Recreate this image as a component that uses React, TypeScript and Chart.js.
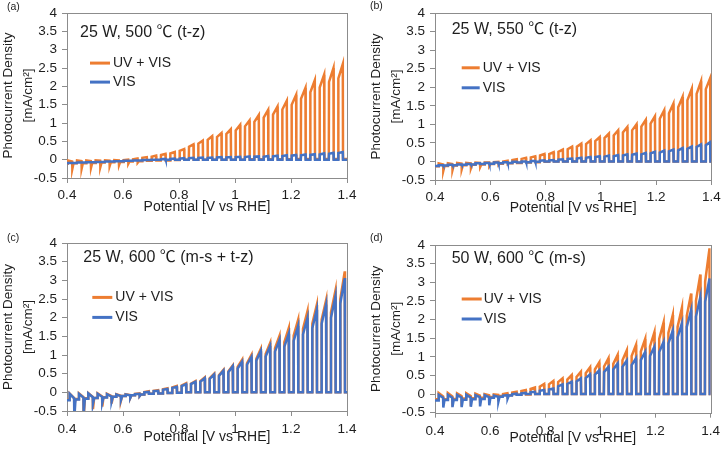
import { useEffect, useRef } from 'react';
import { Chart, registerables } from 'chart.js';

Chart.register(...registerables);

const FONT = '"Liberation Sans", Arial, "Noto Sans CJK JP", sans-serif';
const TEXT = '#1e1e1e';
const AXIS = '#8c8c8c';
const ORANGE = '#ED7D31';
const BLUE = '#4472C4';

// Light chopping period (V): 30 on/off cycles per volt of sweep
const PERIOD = 1 / 30;

const X_TICKS = [0.4, 0.6, 0.8, 1.0, 1.2, 1.4];
const Y_TICKS = [-0.5, 0, 0.5, 1, 1.5, 2, 2.5, 3, 3.5, 4];
const X_TITLE = 'Potential [V vs RHE]';
const Y_TITLE = ['Photocurrent Density', '[mA/cm²]'];
const SERIES = ['UV + VIS', 'VIS'];

// Per light pulse: dark current before the pulse, current right after the
// light is switched on, current just before it is switched off, and the
// cathodic transient after switching off (mA/cm²).

// (a) 25 W, 500 ℃
const aUvDark = [-0.11, -0.1, -0.1, -0.09, -0.08, -0.07, -0.06, -0.05, -0.04, -0.03, -0.02, -0.02, -0.01, 0, 0, 0, 0, 0, 0, 0, 0.01, 0.01, 0.01, 0.01, 0.01, 0.02, 0.02, 0.02, 0.02, 0.02];
const aUvRise = [-0.02, -0.02, -0.02, -0.02, -0.02, -0.01, -0.01, 0.01, 0.05, 0.08, 0.13, 0.17, 0.24, 0.35, 0.44, 0.54, 0.62, 0.7, 0.8, 0.91, 1.03, 1.15, 1.23, 1.37, 1.5, 1.66, 1.84, 1.97, 2.12, 2.22];
const aUvPeak = [-0.05, -0.04, -0.04, -0.03, -0.03, -0.02, 0, 0.03, 0.07, 0.11, 0.16, 0.21, 0.29, 0.42, 0.52, 0.64, 0.73, 0.83, 0.95, 1.07, 1.22, 1.36, 1.45, 1.61, 1.77, 1.96, 2.17, 2.32, 2.5, 2.61];
const aUvDip = [-0.25, -0.24, -0.22, -0.2, -0.17, -0.15, -0.11, -0.08];
const aVisDark = [-0.1, -0.09, -0.08, -0.07, -0.06, -0.05, -0.04, -0.03, -0.02, -0.01, 0, 0, 0, 0, 0, 0, 0, 0, 0, 0, 0, 0, 0, 0, 0, 0, 0, 0, 0, 0];
const aVisRise = [-0.09, -0.08, -0.07, -0.06, -0.05, -0.04, -0.03, -0.02, -0.01, 0, 0.01, 0.02, 0.03, 0.04, 0.05, 0.05, 0.06, 0.06, 0.07, 0.07, 0.08, 0.08, 0.09, 0.1, 0.11, 0.12, 0.13, 0.14, 0.16, 0.18];
const aVisPeak = [-0.09, -0.08, -0.07, -0.06, -0.05, -0.04, -0.03, -0.02, -0.01, 0, 0.02, 0.03, 0.04, 0.05, 0.06, 0.06, 0.07, 0.07, 0.08, 0.09, 0.09, 0.1, 0.11, 0.12, 0.13, 0.14, 0.15, 0.17, 0.19, 0.21];

// (b) 25 W, 550 ℃
const bUvDark = [-0.13, -0.12, -0.11, -0.1, -0.09, -0.08, -0.07, -0.06, -0.05, -0.04, -0.03, -0.02, -0.01, 0, 0, 0, 0, 0, 0, 0, 0, 0, 0, 0, 0, 0, 0, 0, 0, 0];
const bUvRise = [-0.05, -0.05, -0.04, -0.04, -0.03, -0.03, -0.02, 0, 0.04, 0.07, 0.11, 0.16, 0.2, 0.26, 0.33, 0.4, 0.47, 0.55, 0.63, 0.7, 0.78, 0.84, 0.94, 1.02, 1.15, 1.3, 1.46, 1.65, 1.82, 1.95];
const bUvPeak = [-0.08, -0.07, -0.06, -0.05, -0.04, -0.03, -0.01, 0.02, 0.06, 0.1, 0.14, 0.2, 0.25, 0.32, 0.4, 0.48, 0.57, 0.66, 0.75, 0.84, 0.93, 1.0, 1.12, 1.22, 1.38, 1.56, 1.74, 1.96, 2.16, 2.25];
const bUvDip = [-0.25, -0.23, -0.21, -0.18, -0.15, -0.12, -0.09, -0.07];
const bVisDark = [-0.12, -0.11, -0.1, -0.09, -0.08, -0.07, -0.06, -0.05, -0.04, -0.03, -0.02, -0.01, 0, 0, 0, 0, 0, 0, 0, 0, 0, 0, 0, 0, 0, 0, 0, 0, 0, 0];
const bVisRise = [-0.1, -0.09, -0.08, -0.07, -0.05, -0.04, -0.03, -0.02, -0.01, 0, 0.01, 0.02, 0.03, 0.05, 0.07, 0.08, 0.1, 0.12, 0.13, 0.14, 0.16, 0.18, 0.19, 0.22, 0.24, 0.27, 0.3, 0.34, 0.39, 0.44];
const bVisPeak = [-0.1, -0.09, -0.08, -0.07, -0.05, -0.04, -0.03, -0.02, -0.01, 0, 0.01, 0.03, 0.04, 0.06, 0.08, 0.1, 0.12, 0.14, 0.16, 0.17, 0.19, 0.21, 0.23, 0.26, 0.29, 0.32, 0.36, 0.4, 0.46, 0.52];

// (c) 25 W, 600 ℃
const cUvDark = [-0.2, -0.18, -0.16, -0.15, -0.13, -0.12, -0.1, -0.08, -0.06, -0.04, -0.03, -0.02, -0.01, 0, 0, 0, 0, 0, 0, 0, 0, 0, 0, 0, 0, 0, 0, 0, 0, 0];
const cUvRise = [-0.03, -0.03, -0.02, -0.03, -0.04, -0.05, -0.05, -0.04, 0.01, 0.04, 0.08, 0.13, 0.18, 0.23, 0.3, 0.38, 0.46, 0.56, 0.68, 0.78, 0.9, 1.03, 1.18, 1.34, 1.52, 1.7, 1.84, 1.95, 2.14, 2.5];
const cUvPeak = [-0.15, -0.13, -0.12, -0.11, -0.1, -0.09, -0.07, -0.03, 0.03, 0.06, 0.11, 0.17, 0.24, 0.3, 0.4, 0.5, 0.6, 0.72, 0.87, 1.0, 1.16, 1.32, 1.51, 1.72, 1.94, 2.17, 2.34, 2.47, 2.72, 3.24];
const cUvDip = [-0.35, -0.7, -0.45, -0.38, -0.3, -0.22, -0.15, -0.1];
const cVisDark = [-0.21, -0.19, -0.17, -0.15, -0.14, -0.12, -0.1, -0.08, -0.06, -0.04, -0.03, -0.02, -0.01, 0, 0, 0, 0, 0, 0, 0, 0, 0, 0, 0, 0, 0, 0, 0, 0, 0];
const cVisRise = [-0.04, -0.04, -0.03, -0.04, -0.05, -0.06, -0.06, -0.05, 0, 0.03, 0.07, 0.12, 0.17, 0.22, 0.28, 0.36, 0.44, 0.54, 0.64, 0.74, 0.85, 0.96, 1.09, 1.22, 1.38, 1.55, 1.72, 1.84, 2.0, 2.38];
const cVisPeak = [-0.16, -0.14, -0.13, -0.12, -0.11, -0.1, -0.08, -0.04, 0.01, 0.04, 0.09, 0.15, 0.22, 0.28, 0.38, 0.48, 0.58, 0.7, 0.82, 0.95, 1.1, 1.24, 1.4, 1.57, 1.78, 1.99, 2.21, 2.35, 2.57, 3.06];
const cVisDip = [-0.7, -0.6, -0.3, -0.27, -0.24, -0.2, -0.15, -0.1];

// (d) 50 W, 600 ℃
const dUvDark = [-0.14, -0.14, -0.13, -0.12, -0.11, -0.1, -0.08, -0.05, -0.03, -0.02, -0.01, 0, 0, 0, 0, 0, 0, 0, 0, 0, 0, 0, 0, 0, 0, 0, 0, 0, 0, 0];
const dUvRise = [0.03, 0.03, 0.02, 0.02, 0.01, 0, -0.01, 0, 0.04, 0.08, 0.14, 0.2, 0.26, 0.32, 0.39, 0.46, 0.56, 0.66, 0.74, 0.81, 0.91, 1.02, 1.14, 1.28, 1.48, 1.64, 1.8, 2.1, 2.5, 3.02];
const dUvPeak = [-0.06, -0.06, -0.05, -0.05, -0.04, -0.03, -0.02, 0.02, 0.06, 0.11, 0.18, 0.27, 0.35, 0.42, 0.51, 0.6, 0.72, 0.85, 0.96, 1.05, 1.18, 1.32, 1.48, 1.66, 1.92, 2.12, 2.32, 2.7, 3.21, 3.91];
const dUvDip = [-0.2, -0.2, -0.19, -0.18, -0.16, -0.14, -0.1, -0.06];
const dVisDark = [-0.17, -0.16, -0.16, -0.15, -0.14, -0.13, -0.1, -0.07, -0.04, -0.02, 0, 0, 0, 0, 0, 0, 0, 0, 0, 0, 0, 0, 0, 0, 0, 0, 0, 0, 0, 0];
const dVisRise = [-0.02, -0.02, -0.02, -0.02, -0.03, -0.03, -0.04, -0.04, 0, 0.02, 0.05, 0.09, 0.12, 0.21, 0.27, 0.34, 0.43, 0.52, 0.59, 0.66, 0.73, 0.78, 0.91, 1.02, 1.13, 1.36, 1.52, 1.8, 2.08, 2.48];
const dVisPeak = [-0.1, -0.1, -0.09, -0.09, -0.08, -0.08, -0.07, -0.03, 0.01, 0.03, 0.06, 0.11, 0.15, 0.26, 0.33, 0.42, 0.53, 0.64, 0.73, 0.82, 0.9, 0.96, 1.13, 1.27, 1.4, 1.7, 1.9, 2.25, 2.6, 3.1];
const dVisDip = [-0.36, -0.35, -0.35, -0.34, -0.33, -0.3, -0.2, -0.12];

type Pulses = { dark: number[]; rise: number[]; peak: number[]; dip?: number[] };

// Chopped-light voltammogram: dark / on / off segments for every pulse.
function buildTrace(lastOff: number, p: Pulses) {
  const n = p.peak.length;
  const pts: { x: number; y: number }[] = [{ x: 0.4, y: p.dark[0] }];
  for (let i = 0; i < n; i++) {
    const off = lastOff - (n - 1 - i) * PERIOD;
    const on = off - PERIOD / 2;
    const nextDark = i + 1 < n ? p.dark[i + 1] : p.dark[i];
    const dip = p.dip && i < p.dip.length ? p.dip[i] : nextDark;
    pts.push({ x: on, y: p.dark[i] });
    pts.push({ x: on + 0.0008, y: p.rise[i] });
    pts.push({ x: off, y: p.peak[i] });
    pts.push({ x: off + 0.0008, y: dip });
    pts.push({ x: off + 0.005, y: nextDark });
  }
  pts.push({ x: 1.4, y: p.dark[n - 1] });
  return pts;
}

type PanelCfg = {
  letter: string;
  title: string;
  lastOff: number;
  uv: Pulses;
  vis: Pulses;
  left: number;
  top: number;
  w: number;
  h: number;
  padTop: number;
  padRight: number;
  xAxisH: number;
  xTickPad: number;
  xTitlePad: number;
  letterPos: [number, number];
  titlePos: [number, number];
  legend: { x0: number; x1: number; tx: number; y: [number, number] };
};

const PANELS: PanelCfg[] = [
  {
    letter: '(a)', title: '25 W, 500 ℃ (t-z)', lastOff: 1.385,
    uv: { dark: aUvDark, rise: aUvRise, peak: aUvPeak, dip: aUvDip },
    vis: { dark: aVisDark, rise: aVisRise, peak: aVisPeak },
    left: 0, top: 0, w: 362, h: 225, padTop: 10, padRight: 15, xAxisH: 47, xTickPad: 4, xTitlePad: 9.3,
    letterPos: [7, 7], titlePos: [13, 19],
    legend: { x0: 23, x1: 43, tx: 46, y: [50, 69] },
  },
  {
    letter: '(b)', title: '25 W, 550 ℃ (t-z)', lastOff: 1.396,
    uv: { dark: bUvDark, rise: bUvRise, peak: bUvPeak, dip: bUvDip },
    vis: { dark: bVisDark, rise: bVisRise, peak: bVisPeak },
    left: 368, top: 0, w: 357, h: 225, padTop: 12, padRight: 10, xAxisH: 45, xTickPad: 4.3, xTitlePad: 8.3,
    letterPos: [2, 6], titlePos: [16.7, 16.7],
    legend: { x0: 26.7, x1: 44.7, tx: 47.7, y: [54.7, 74.7] },
  },
  {
    letter: '(c)', title: '25 W, 600 ℃ (m-s + t-z)', lastOff: 1.392,
    uv: { dark: cUvDark, rise: cUvRise, peak: cUvPeak, dip: cUvDip },
    vis: { dark: cVisDark, rise: cVisRise, peak: cVisPeak, dip: cVisDip },
    left: 0, top: 225, w: 362, h: 224, padTop: 18, padRight: 15, xAxisH: 38, xTickPad: 5, xTitlePad: 3.9,
    letterPos: [7, 13.3], titlePos: [16.3, 14.7],
    legend: { x0: 25.3, x1: 45.3, tx: 48.3, y: [54.4, 74.4] },
  },
  {
    letter: '(d)', title: '50 W, 600 ℃ (m-s)', lastOff: 1.396,
    uv: { dark: dUvDark, rise: dUvRise, peak: dUvPeak, dip: dUvDip },
    vis: { dark: dVisDark, rise: dVisRise, peak: dVisPeak, dip: dVisDip },
    left: 368, top: 225, w: 357, h: 224, padTop: 20, padRight: 10, xAxisH: 36.3, xTickPad: 5, xTitlePad: 2.6,
    letterPos: [2, 13.3], titlePos: [16.7, 14],
    legend: { x0: 26.7, x1: 46.7, tx: 48.7, y: [54, 74] },
  },
];

function Panel({ cfg }: { cfg: PanelCfg }) {
  const ref = useRef<HTMLCanvasElement>(null);

  useEffect(() => {
    const canvas = ref.current;
    if (!canvas) return;

    const decor = {
      id: 'panelDecor',
      beforeDatasetsDraw(chart: any) {
        const { ctx, chartArea: a } = chart;
        ctx.save();
        ctx.strokeStyle = AXIS;
        ctx.lineWidth = 1;
        ctx.strokeRect(Math.round(a.left) + 0.5, Math.round(a.top) + 0.5, Math.round(a.right - a.left), Math.round(a.bottom - a.top));
        ctx.restore();
      },
      afterDraw(chart: any) {
        const { ctx, chartArea: a } = chart;
        ctx.save();
        ctx.fillStyle = TEXT;
        ctx.textBaseline = 'middle';
        ctx.textAlign = 'left';
        ctx.font = `10.5px ${FONT}`;
        ctx.fillText(cfg.letter, cfg.letterPos[0], cfg.letterPos[1]);
        ctx.font = `16px ${FONT}`;
        ctx.fillText(cfg.title, a.left + cfg.titlePos[0], a.top + cfg.titlePos[1]);
        const colors = [ORANGE, BLUE];
        ctx.font = `14px ${FONT}`;
        ctx.lineWidth = 3;
        for (let i = 0; i < 2; i++) {
          const y = a.top + cfg.legend.y[i];
          ctx.strokeStyle = colors[i];
          ctx.beginPath();
          ctx.moveTo(a.left + cfg.legend.x0, y);
          ctx.lineTo(a.left + cfg.legend.x1, y);
          ctx.stroke();
          ctx.fillText(SERIES[i], a.left + cfg.legend.tx, y);
        }
        ctx.restore();
      },
    };

    const chart = new Chart(canvas, {
      type: 'line',
      data: {
        datasets: [
          {
            label: SERIES[0],
            data: buildTrace(cfg.lastOff, cfg.uv),
            borderColor: ORANGE,
            borderWidth: 2.5,
            pointRadius: 0,
            tension: 0,
            order: 1,
          },
          {
            label: SERIES[1],
            data: buildTrace(cfg.lastOff, cfg.vis),
            borderColor: BLUE,
            borderWidth: 2.5,
            pointRadius: 0,
            tension: 0,
            order: 0,
          },
        ],
      },
      options: {
        animation: false,
        responsive: false,
        events: [],
        layout: { padding: { top: cfg.padTop, right: cfg.padRight, left: 0, bottom: 0 } },
        plugins: { legend: { display: false }, tooltip: { enabled: false } },
        scales: {
          x: {
            type: 'linear',
            min: 0.4,
            max: 1.4,
            afterBuildTicks: (s: any) => {
              s.ticks = X_TICKS.map((v) => ({ value: v }));
            },
            afterFit: (s: any) => {
              s.height = cfg.xAxisH;
            },
            ticks: {
              autoSkip: false,
              maxRotation: 0,
              padding: cfg.xTickPad,
              color: TEXT,
              font: { family: FONT, size: 13.5 },
              callback: (v: any) => String(v),
            },
            grid: { display: true, drawOnChartArea: false, drawTicks: true, tickLength: 5, color: AXIS },
            border: { display: false },
            title: {
              display: true,
              text: X_TITLE,
              color: TEXT,
              font: { family: FONT, size: 14, lineHeight: 1.2 },
              padding: { top: 0, bottom: cfg.xTitlePad },
            },
          },
          y: {
            type: 'linear',
            min: -0.5,
            max: 4,
            afterBuildTicks: (s: any) => {
              s.ticks = Y_TICKS.map((v) => ({ value: v }));
            },
            afterFit: (s: any) => {
              s.width = 67;
            },
            ticks: {
              autoSkip: false,
              padding: 5,
              color: TEXT,
              font: { family: FONT, size: 13.5 },
              callback: (v: any) => String(v),
            },
            grid: { display: true, drawOnChartArea: false, drawTicks: true, tickLength: 5, color: AXIS },
            border: { display: false },
            title: {
              display: true,
              text: Y_TITLE,
              color: TEXT,
              font: { family: FONT, size: 13.5, lineHeight: 1.48 },
              padding: { top: -2, bottom: 0 },
            },
          },
        },
      },
      plugins: [decor],
    } as any);

    return () => chart.destroy();
  }, [cfg]);

  return (
    <canvas
      ref={ref}
      width={cfg.w}
      height={cfg.h}
      style={{ position: 'absolute', left: cfg.left, top: cfg.top, width: cfg.w, height: cfg.h }}
    />
  );
}

export default function App() {
  return (
    <div
      style={{
        position: 'fixed',
        left: 0,
        top: 0,
        width: 725,
        height: 449,
        overflow: 'hidden',
        background: '#ffffff',
      }}
    >
      {PANELS.map((p) => (
        <Panel key={p.letter} cfg={p} />
      ))}
    </div>
  );
}
